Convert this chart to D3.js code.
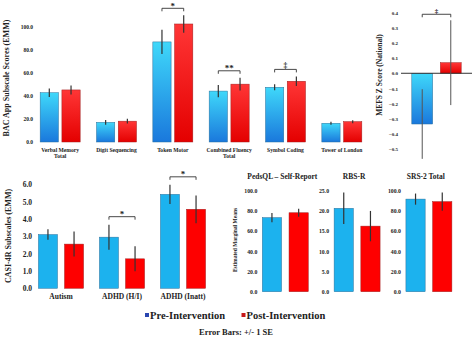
<!DOCTYPE html>
<html>
<head>
<meta charset="utf-8">
<script src="https://cdnjs.cloudflare.com/ajax/libs/d3/7.8.5/d3.min.js"></script>
<style>
  body { margin: 0; background: #fff; }
  text { font-family: "Liberation Serif", "DejaVu Serif", serif; font-weight: bold; fill: #222; }
  .axis path, .axis line { display: none; }
  .err { stroke: #333; stroke-width: 1.2; }
  .bracket { fill: none; stroke: #333; stroke-width: 0.9; }
</style>
</head>
<body>
<div id="chart"></div>
<script>
// BAC App subscales (top left)
var bacCategories = ["Verbal Memory|Total", "Digit Sequencing", "Token Motor", "Combined Fluency|Total", "Symbol Coding", "Tower of London"];
var bacPre = [42.6, 17, 86.5, 44, 47.3, 16.2];
var bacPost = [45, 18, 102, 50, 52.5, 17.6];
var bacPreSE = [3.6, 2, 10.5, 5.3, 2.6, 1.3];
var bacPostSE = [3.9, 2, 7.5, 5.5, 4.2, 1.3];
var bacSig = ["", "", "*", "**", "‡", ""];
var bacTicks = [0, 20, 40, 60, 80, 100];

// MEFS z score (top right)
var mefsValues = [-0.335, 0.07];
var mefsSE = [0.23, 0.28];
var mefsSig = "‡";
var mefsTicks = [0.4, 0.3, 0.2, 0.1, 0, -0.1, -0.2, -0.3, -0.4, -0.5];

// CASI-4R subscales (bottom left)
var casiCategories = ["Autism", "ADHD (H/I)", "ADHD (Inatt)"];
var casiPre = [3.1, 2.95, 5.42];
var casiPost = [2.55, 1.7, 4.56];
var casiPreSE = [0.3, 0.72, 0.55];
var casiPostSE = [0.72, 0.72, 0.8];
var casiSig = ["", "*", "*"];
var casiTicks = [0, 1, 2, 3, 4, 5, 6];

// estimated marginal means (bottom right)
var emmNames = ["PedsQL – Self-Report", "RBS-R", "SRS-2 Total"];
var emmPre = [73.2, 20.6, 91.5];
var emmPost = [78, 16.2, 89];
var emmPreSE = [4.5, 3.9, 5.5];
var emmPostSE = [4, 3.75, 9];
var emmMax = [100, 25, 100];
var emmTicks = [[0, 20, 40, 60, 80, 100], [0, 5, 10, 15, 20, 25], [0, 20, 40, 60, 80, 100]];

var legendLabels = ["Pre-Intervention", "Post-Intervention"];
var legendColors = ["#2a46b0", "#c81818"];
var phases = ["pre", "post"];

var width = 474;
var height = 340;

var svg = d3.select("#chart")
.append("svg")
.attr("width", width)
.attr("height", height);

//gradients for the top bars
var defs = svg.append("defs");
function grad(id, top, bottom) {
  var g = defs.append("linearGradient").attr("id", id)
  .attr("x1", 0).attr("y1", 0).attr("x2", 0).attr("y2", 1);
  g.append("stop").attr("offset", "0%").attr("stop-color", top);
  g.append("stop").attr("offset", "100%").attr("stop-color", bottom);
}
grad("gBlue", "#3fd8fa", "#1a78dc");
grad("gRed", "#ff3636", "#e40000");

var fillGrad = {pre: "url(#gBlue)", post: "url(#gRed)"};
var fillFlat = {pre: "#1cb2ee", post: "#fe0000"};
var strokeCol = {pre: "#2a6f9a", post: "#a02020"};

//baseline of a significance mark relative to its bracket
function sigOffset(s) { return s.indexOf("*") >= 0 ? 0.5 : -1.5; }

//draws one grouped bar panel; rows = [{cat, pre, post, preSE, postSE, sig}]
function groupedPanel(rows, x, sub, y, fills, opts) {
  var g = svg.append("g");
  var groups = g.selectAll(".grp")
  .data(rows)
  .enter()
  .append("g")
  .attr("transform", function(d) { return "translate(" + x(d.cat) + ",0)"; });

  phases.forEach(function(p) {
    groups.append("rect")
    .attr("x", sub(p))
    .attr("width", sub.bandwidth())
    .attr("y", function(d) { return y(d[p]); })
    .attr("height", function(d) { return y(0) - y(d[p]); })
    .attr("fill", fills[p])
    .attr("stroke", strokeCol[p])
    .attr("stroke-width", 0.5);

    groups.append("line")
    .attr("class", "err")
    .attr("x1", sub(p) + sub.bandwidth() / 2)
    .attr("x2", sub(p) + sub.bandwidth() / 2)
    .attr("y1", function(d) { return y(d[p] + d[p + "SE"]); })
    .attr("y2", function(d) { return y(d[p] - d[p + "SE"]); });
  });

  //significance brackets
  var sig = groups.filter(function(d) { return d.sig; });
  var x1 = sub("pre") + sub.bandwidth() / 2;
  var x2 = sub("post") + sub.bandwidth() / 2;
  function top(d) { return Math.min(y(d.pre + d.preSE), y(d.post + d.postSE)) - opts.gap; }
  sig.append("path")
  .attr("class", "bracket")
  .attr("d", function(d) {
    var t = top(d);
    return "M" + x1 + "," + (t + 3) + "V" + t + "H" + x2 + "V" + (t + 3);
  });
  sig.append("text")
  .attr("x", (x1 + x2) / 2)
  .attr("y", function(d) { return top(d) + sigOffset(d.sig); })
  .attr("text-anchor", "middle")
  .style("font-size", function(d) { return d.sig === "‡" ? "7.5px" : "9px"; })
  .text(function(d) { return d.sig; });

  return groups;
}

function rowsFrom(cats, pre, post, preSE, postSE, sig) {
  return cats.map(function(c, i) {
    return {cat: c, pre: pre[i], post: post[i], preSE: preSE[i], postSE: postSE[i], sig: sig ? sig[i] : ""};
  });
}

//---------- BAC App panel ----------
var xBac = d3.scaleBand().domain(bacCategories).range([32, 370]).paddingInner(0.29).paddingOuter(0.145);
var subBac = d3.scaleBand().domain(phases).range([0, xBac.bandwidth()]).paddingInner(0.16);
var yBac = d3.scaleLinear().domain([0, 100]).range([142, 26.3]);

var bacGroups = groupedPanel(rowsFrom(bacCategories, bacPre, bacPost, bacPreSE, bacPostSE, bacSig), xBac, subBac, yBac, fillGrad, {gap: 7});

svg.append("g")
.attr("class", "axis")
.attr("transform", "translate(35,0)")
.call(d3.axisLeft(yBac).tickValues(bacTicks).tickFormat(d3.format(".1f")).tickSize(0).tickPadding(2))
.selectAll("text").style("font-size", "5.5px");

bacGroups.append("text")
.attr("x", xBac.bandwidth() / 2)
.attr("y", 152)
.attr("text-anchor", "middle")
.style("font-size", "5.6px")
.each(function(d) {
  var t = d3.select(this);
  d.cat.split("|").forEach(function(line, i) {
    t.append("tspan").attr("x", xBac.bandwidth() / 2).attr("dy", i ? "1.1em" : 0).text(line);
  });
});

svg.append("text")
.attr("transform", "translate(9,78) rotate(-90)")
.attr("text-anchor", "middle")
.style("font-size", "8px")
.text("BAC App Subscale Scores (EMM)");

//---------- MEFS panel ----------
var xMefs = d3.scaleBand().domain(phases).range([401, 472]).paddingInner(0.27).paddingOuter(0.378);
var yMefs = d3.scaleLinear().domain([-0.5, 0.4]).range([149, 12.7]);
var mefs = phases.map(function(p, i) { return {p: p, v: mefsValues[i], se: mefsSE[i]}; });

svg.append("g").selectAll("rect")
.data(mefs)
.enter()
.append("rect")
.attr("x", function(d) { return xMefs(d.p); })
.attr("width", xMefs.bandwidth())
.attr("y", function(d) { return yMefs(Math.max(0, d.v)); })
.attr("height", function(d) { return Math.abs(yMefs(d.v) - yMefs(0)); })
.attr("fill", function(d) { return fillGrad[d.p]; })
.attr("stroke", function(d) { return strokeCol[d.p]; })
.attr("stroke-width", 0.5);

svg.append("line")
.attr("x1", xMefs.range()[0]).attr("x2", xMefs.range()[1])
.attr("y1", yMefs(0)).attr("y2", yMefs(0))
.attr("stroke", "#333").attr("stroke-width", 1);

svg.append("g").selectAll("line")
.data(mefs)
.enter()
.append("line")
.attr("x1", function(d) { return xMefs(d.p) + xMefs.bandwidth() / 2; })
.attr("x2", function(d) { return xMefs(d.p) + xMefs.bandwidth() / 2; })
.attr("y1", function(d) { return yMefs(d.v + d.se); })
.attr("y2", function(d) { return yMefs(d.v - d.se); })
.attr("stroke", "#555").attr("stroke-width", 1);

var mx1 = xMefs("pre") + xMefs.bandwidth() / 2;
var mx2 = xMefs("post") + xMefs.bandwidth() / 2;
var mTop = yMefs(mefsValues[1] + mefsSE[1]) - 6;
svg.append("path")
.attr("class", "bracket")
.attr("d", "M" + mx1 + "," + (mTop + 3) + "V" + mTop + "H" + mx2 + "V" + (mTop + 3));
svg.append("text")
.attr("x", (mx1 + mx2) / 2).attr("y", mTop + sigOffset(mefsSig))
.attr("text-anchor", "middle")
.style("font-size", "7px")
.text(mefsSig);

svg.append("g")
.attr("class", "axis")
.attr("transform", "translate(399,0)")
.call(d3.axisLeft(yMefs).tickValues(mefsTicks).tickFormat(d3.format(".1f")).tickSize(0).tickPadding(1))
.selectAll("text").style("font-size", "5px");

svg.append("text")
.attr("transform", "translate(382,75) rotate(-90)")
.attr("text-anchor", "middle")
.style("font-size", "7.5px")
.text("MEFS Z Score (National)");

//---------- CASI-4R panel ----------
var xCasi = d3.scaleBand().domain(casiCategories).range([30.5, 213.5]).paddingInner(0.26).paddingOuter(0.13);
var subCasi = d3.scaleBand().domain(phases).range([0, xCasi.bandwidth()]).paddingInner(0.27);
var yCasi = d3.scaleLinear().domain([0, 6]).range([288.3, 184.3]);

var casiGroups = groupedPanel(rowsFrom(casiCategories, casiPre, casiPost, casiPreSE, casiPostSE, casiSig), xCasi, subCasi, yCasi, fillFlat, {gap: 8});

svg.append("g")
.attr("class", "axis")
.attr("transform", "translate(34,0)")
.call(d3.axisLeft(yCasi).tickValues(casiTicks).tickFormat(d3.format(".1f")).tickSize(0).tickPadding(2))
.selectAll("text").style("font-size", "7.5px");

casiGroups.append("text")
.attr("x", xCasi.bandwidth() / 2)
.attr("y", 299)
.attr("text-anchor", "middle")
.style("font-size", "7.5px")
.text(function(d) { return d.cat; });

svg.append("text")
.attr("transform", "translate(11,236) rotate(-90)")
.attr("text-anchor", "middle")
.style("font-size", "8px")
.text("CASI-4R Subscales (EMM)");

//---------- estimated marginal means panels ----------
var xEmm = d3.scaleBand().domain(emmNames).range([249.4, 464.8]).paddingInner(0.36).paddingOuter(0.18);
var subEmm = d3.scaleBand().domain(phases).range([0, xEmm.bandwidth()]).paddingInner(0.28);

emmNames.forEach(function(name, i) {
  var y = d3.scaleLinear().domain([0, emmMax[i]]).range([291.7, 190.5]);
  groupedPanel(rowsFrom([name], [emmPre[i]], [emmPost[i]], [emmPreSE[i]], [emmPostSE[i]]), xEmm, subEmm, y, fillFlat, {gap: 6});

  svg.append("g")
  .attr("class", "axis")
  .attr("transform", "translate(" + (xEmm(name) - 4) + ",0)")
  .call(d3.axisLeft(y).tickValues(emmTicks[i]).tickFormat(d3.format(".1f")).tickSize(0).tickPadding(1))
  .selectAll("text").style("font-size", "5.8px");

  svg.append("text")
  .attr("x", xEmm(name) + xEmm.bandwidth() / 2 - 3)
  .attr("y", 179)
  .attr("text-anchor", "middle")
  .style("font-size", "7.5px")
  .text(name);
});

svg.append("text")
.attr("transform", "translate(237,240) rotate(-90)")
.attr("text-anchor", "middle")
.style("font-size", "5.5px")
.text("Estimated Marginal Means");

//---------- legend ----------
var xLegend = d3.scalePoint().domain(legendLabels).range([145, 241.5]);
var legend = svg.append("g").selectAll("g")
.data(legendLabels)
.enter()
.append("g")
.attr("transform", function(d) { return "translate(" + xLegend(d) + ",319)"; });

legend.append("rect")
.attr("x", 0).attr("y", -6)
.attr("width", 4).attr("height", 4)
.attr("fill", function(d, i) { return legendColors[i]; });

legend.append("text")
.attr("x", 5)
.style("font-family", "'Liberation Serif', serif")
.style("font-size", "10.5px")
.text(function(d) { return d; });

svg.append("text")
.attr("x", 236).attr("y", 335)
.attr("text-anchor", "middle")
.style("font-size", "8.5px")
.text("Error Bars: +/- 1 SE");
</script>
</body>
</html>
